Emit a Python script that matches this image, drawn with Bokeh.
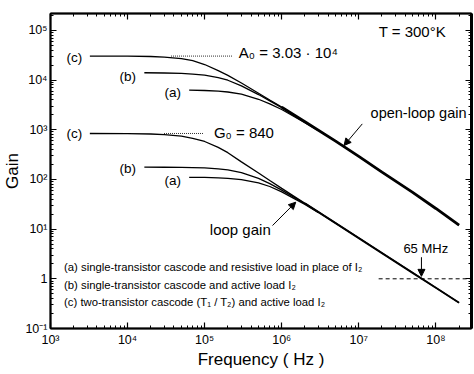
from math import pi
from bokeh.plotting import figure
from bokeh.models import FixedTicker, LogAxis, Label, Arrow, NormalHead
from bokeh.embed import file_html
from bokeh.resources import INLINE

# ---------------- data ----------------
A0 = 3.03e4          # open-loop DC gain of (c)
G0 = 840             # loop-gain DC value of (c)
f_unity = 65e6       # loop-gain crossover (65 MHz)

# open-loop gain curves
f_ol_c = [3.24e3, 1e4, 2e4, 3e4, 5e4, 7e4, 1e5, 1.5e5, 2e5, 3e5, 5e5, 7e5, 1e6, 2e6, 5e6, 1e7, 2e7, 5e7, 1e8, 2e8]
g_ol_c = [3.03e4, 3.02e4, 2.97e4, 2.9e4, 2.7e4, 2.45e4, 2.05e4, 1.55e4, 1.24e4, 8.7e3, 5.4e3, 3.95e3, 2.85e3, 1.45e3, 590, 290, 140, 55, 26, 12]
f_ol_b = [1.65e4, 3e4, 5e4, 7e4, 1e5, 1.5e5, 2e5, 3e5, 5e5, 7e5, 1e6, 2e6]
g_ol_b = [1.4e4, 1.385e4, 1.36e4, 1.32e4, 1.25e4, 1.12e4, 9.9e3, 7.6e3, 5.1e3, 3.8e3, 2.78e3, 1.43e3]
f_ol_a = [6.3e4, 1e5, 1.5e5, 2e5, 3e5, 5e5, 7e5, 1e6, 2e6, 3e6]
g_ol_a = [6.25e3, 6.15e3, 5.96e3, 5.74e3, 5.2e3, 4.1e3, 3.3e3, 2.55e3, 1.38e3, 955]

# loop gain curves
f_lg_c = [3.24e3, 1e4, 2e4, 3e4, 5e4, 7e4, 1e5, 1.5e5, 2e5, 3e5, 5e5, 7e5, 1e6, 2e6, 5e6, 1e7, 2e7, 5e7, 1e8, 2e8]
g_lg_c = [840, 835, 820, 800, 740, 670, 580, 440, 345, 225, 135, 95, 66, 33, 13.2, 6.6, 3.3, 1.32, 0.66, 0.33]
f_lg_b = [1.65e4, 3e4, 5e4, 7e4, 1e5, 1.5e5, 2e5, 3e5, 5e5, 7e5, 1e6, 2e6]
g_lg_b = [176, 175.5, 174.4, 173, 170, 163, 155, 137, 105, 82, 61, 32.5]
f_lg_a = [6.3e4, 1e5, 1.5e5, 2e5, 3e5, 5e5, 7e5, 1e6, 2e6, 3e6]
g_lg_a = [110, 109.5, 107.6, 105, 99, 85, 72, 56, 31.5, 21.5]

# axes ticks / labels
x_ticks = [1e3, 1e4, 1e5, 1e6, 1e7, 1e8]
x_tick_labels = ["10³", "10⁴", "10⁵", "10⁶", "10⁷", "10⁸"]
y_ticks = [0.1, 1.0, 10.0, 100.0, 1e3, 1e4, 1e5]
y_tick_labels = ["10⁻¹", "1", "10¹", "10²", "10³", "10⁴", "10⁵"]

legend_lines = [
    "(a)  single-transistor cascode and resistive load in place of I₂",
    "(b)  single-transistor cascode and active load I₂",
    "(c)  two-transistor cascode (T₁ / T₂) and active load I₂",
]

FONT = "Liberation Sans"
X_END = 2.9e8

# ---------------- figure ----------------
p = figure(width=474, height=374, x_axis_type="log", y_axis_type="log",
           x_range=(1e3, X_END), y_range=(0.1, 2.18e5),
           output_backend="svg", toolbar_location=None,
           min_border_left=49, min_border_right=3, min_border_top=13, min_border_bottom=46)
p.xgrid.visible = False
p.ygrid.visible = False
p.outline_line_color = "black"
p.outline_line_width = 1.5
p.background_fill_color = "white"
p.border_fill_color = "white"

x_minor = [m * 10.0 ** k for k in range(3, 9) for m in range(2, 10)]
y_minor = [m * 10.0 ** k for k in range(-1, 6) for m in range(2, 10)]
xt = FixedTicker(ticks=x_ticks, minor_ticks=x_minor)
yt = FixedTicker(ticks=y_ticks, minor_ticks=y_minor)


def style_axis(ax, labels=True):
    ax.axis_line_width = 2
    ax.axis_line_color = "black"
    ax.major_tick_in = 6
    ax.major_tick_out = 0
    ax.minor_tick_in = 3
    ax.minor_tick_out = 0
    ax.major_tick_line_width = 1.2
    ax.minor_tick_line_width = 1
    ax.major_label_text_font = FONT
    ax.major_label_text_font_size = "12.5px"
    ax.major_label_text_color = "black"
    ax.major_label_standoff = 4
    ax.axis_label_text_font = FONT
    ax.axis_label_text_font_style = "normal"
    ax.axis_label_text_color = "black"
    ax.axis_label_standoff = 0
    if not labels:
        ax.major_label_text_alpha = 0
        ax.major_label_text_font_size = "1px"
        ax.major_label_standoff = 0


p.xaxis.ticker = xt
p.yaxis.ticker = yt
p.xaxis.major_label_overrides = dict(zip(x_ticks, x_tick_labels))
p.yaxis.major_label_overrides = dict(zip(y_ticks, y_tick_labels))
style_axis(p.xaxis[0])
style_axis(p.yaxis[0])
p.yaxis.major_label_standoff = 3
p.xaxis.axis_label = "Frequency ( Hz )"
p.yaxis.axis_label = "Gain"
p.xaxis.axis_label_text_font_size = "17px"
p.yaxis.axis_label_text_font_size = "17px"

top_ax = LogAxis(ticker=xt, major_label_overrides={t: "" for t in x_ticks})
right_ax = LogAxis(ticker=yt, major_label_overrides={t: "" for t in y_ticks})
style_axis(top_ax, labels=False)
style_axis(right_ax, labels=False)
right_ax.axis_line_width = 3
p.add_layout(top_ax, "above")
p.add_layout(right_ax, "right")

# ---------------- curves ----------------
lw = 1.3
for f, g in [(f_ol_c, g_ol_c), (f_ol_b, g_ol_b), (f_ol_a, g_ol_a),
             (f_lg_c, g_lg_c), (f_lg_b, g_lg_b), (f_lg_a, g_lg_a)]:
    p.line(f, g, line_color="black", line_width=lw)

# merged asymptotic tails drawn heavier
p.line(f_ol_c[12:], g_ol_c[12:], line_color="black", line_width=2.8)
p.line(f_lg_c[13:], g_lg_c[13:], line_color="black", line_width=2.0)

# dotted reference lines and unity-gain dashed line
p.line([3.66e4, 2.33e5], [A0, A0], line_color="#333333", line_width=1, line_dash="1 1")
p.line([2.97e4, 9.8e4], [G0, G0], line_color="#333333", line_width=1, line_dash="1 1")
p.line([1.81e7, X_END], [1, 1], line_color="black", line_width=1, line_dash="4 3")


def lab(x, y, text, size="15px", align="left", baseline="middle", angle=0):
    p.add_layout(Label(x=x, y=y, text=text, text_font=FONT, text_font_size=size,
                       text_align=align, text_baseline=baseline, angle=angle,
                       text_color="black"))


lab(2.58e3, 2.88e4, "(c)", "13.5px", "right")
lab(1.29e4, 1.17e4, "(b)", "13.5px", "right")
lab(4.93e4, 5.52e3, "(a)", "13.5px", "right")
lab(2.58e3, 826, "(c)", "13.5px", "right")
lab(1.29e4, 168, "(b)", "13.5px", "right")
lab(4.93e4, 95, "(a)", "13.5px", "right")

lab(2.78e5, 3.57e4, "A₀ = 3.03 · 10⁴", "15px")
lab(1.32e5, 860, "G₀ = 840", "15px")
lab(1.81e7, 9.5e4, "T = 300°K", "15px")
lab(2.5e8, 2.12e3, "open-loop gain", "14.5px", "right")
lab(7.2e5, 9.8, "loop gain", "15px", "right")
lab(7.4e7, 4.07, "65 MHz", "13px", "center")

for txt, yy in zip(legend_lines, [1.69, 0.768, 0.338]):
    lab(1.5e3, yy, txt, "11.3px")

head = dict(size=7, fill_color="black", line_color="black")
p.add_layout(Arrow(end=NormalHead(**head), x_start=1.11e7, y_start=1.31e3,
                   x_end=6.43e6, y_end=481, line_width=1))
p.add_layout(Arrow(end=NormalHead(**head), x_start=7.6e5, y_start=11.8,
                   x_end=1.52e6, y_end=34.8, line_width=1))
p.add_layout(Arrow(end=NormalHead(**head), x_start=f_unity, y_start=2.72,
                   x_end=f_unity, y_end=1.12, line_width=1))

open("out.html", "w").write(file_html(p, INLINE))
